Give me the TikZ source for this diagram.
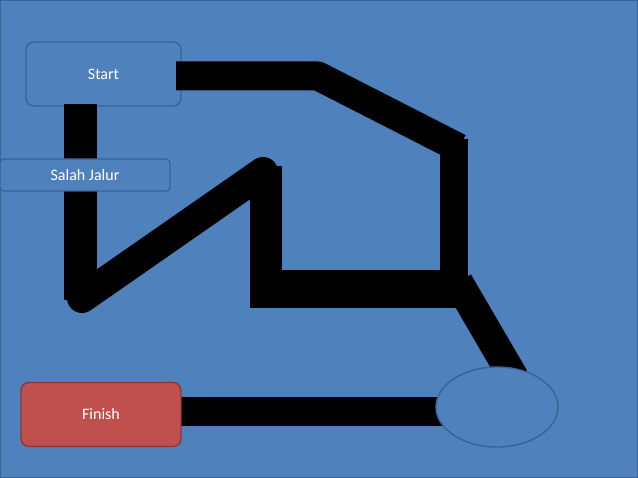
\documentclass[tikz,border=0pt]{standalone}
\usepackage{fontspec}
\setmainfont{Carlito}
\usetikzlibrary{shapes.geometric}
\definecolor{bg}{HTML}{4F81BD}
\definecolor{bgedge}{HTML}{3A6396}
\definecolor{redfill}{HTML}{C0504D}
\definecolor{rededge}{HTML}{8C3836}
\tikzset{
  box/.style={draw=bgedge, line width=1.4pt, fill=bg, text=white, font=\fontsize{16}{18}\selectfont, inner sep=0pt},
  redbox/.style={box, fill=redfill, draw=rededge},
  road/.style={draw=black, line cap=butt, line join=round},
}
\begin{document}
\begin{tikzpicture}[x=1pt,y=-1pt]
\fill[bg] (0,0) rectangle (638,478);
\draw[bgedge, line width=1pt] (0.5,0.5) rectangle (637.5,477.5);
\useasboundingbox (0,0) rectangle (638,478);
% start box
\node[box, rounded corners=8pt, minimum width=155pt, minimum height=64pt] (start) at (103.5,74) {Start};
% road coordinates
\coordinate (a1) at (80,104);
\coordinate (a2) at (80,300);
\coordinate (b1) at (82,298);
\coordinate (b2) at (263,172);
\coordinate (c1) at (266,166);
\coordinate (c2) at (266,308);
\coordinate (d1) at (250,289);
\coordinate (d2) at (468,289);
\coordinate (e1) at (454,139);
\coordinate (e2) at (454,290);
\coordinate (f1) at (176,76);
\coordinate (f2) at (318,76);
\coordinate (g2) at (459,148);
\coordinate (h1) at (458,282);
\coordinate (h2) at (514,378);
\coordinate (i1) at (181,411.5);
\coordinate (i2) at (445,411.5);
\draw[road, line width=33pt] (a1) -- (a2);
\draw[road, line width=30pt, line cap=round] (b1) -- (b2);
\draw[road, line width=32pt] (c1) -- (c2);
\draw[road, line width=38pt] (d1) -- (d2);
\draw[road, line width=28pt] (e1) -- (e2);
\draw[road, line width=29pt] (f1) -- (f2) -- (g2);
\draw[road, line width=30pt] (h1) -- (h2);
\draw[road, line width=29pt] (i1) -- (i2);
% other nodes
\node[box, rounded corners=4pt, minimum width=170pt, minimum height=32pt] (salah) at (85,175) {Salah Jalur};
\node[box, ellipse, minimum width=122pt, minimum height=80pt] (circ) at (497,407) {};
\node[redbox, rounded corners=8pt, minimum width=160pt, minimum height=64pt] (finish) at (101,414.5) {Finish};
\end{tikzpicture}
\end{document}
